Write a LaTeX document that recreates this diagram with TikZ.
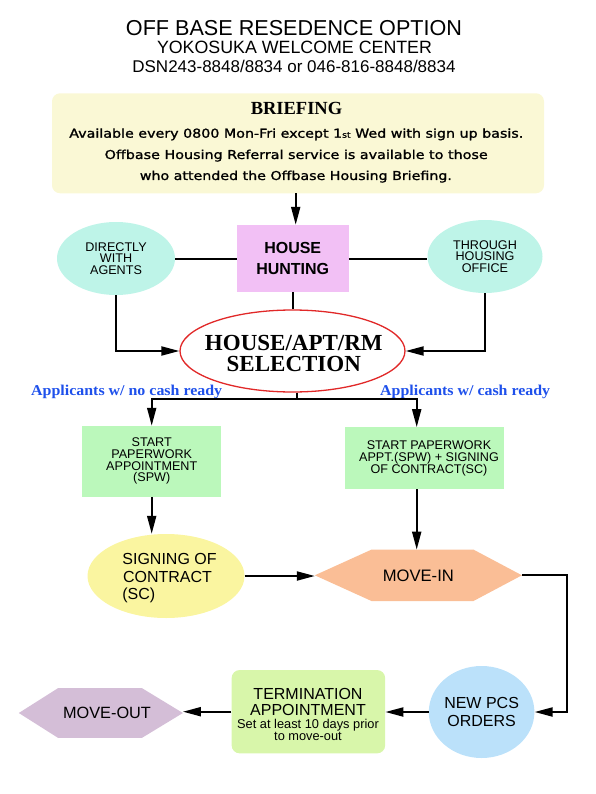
\documentclass[tikz,border=0pt]{standalone}
\usepackage{fontspec}
\setmainfont{Liberation Sans}
\newfontfamily\serifbf{Liberation Serif}
\newfontfamily\roundfont[FakeBold=1.2]{DejaVu Sans}
\usepackage{graphicx}
\usetikzlibrary{arrows.meta,shapes.geometric,backgrounds}
\newcommand\fsz[2]{\fontsize{#1}{#2}\selectfont}
\definecolor{briefc}{RGB}{250,248,213}
\definecolor{pinkc}{RGB}{242,192,245}
\definecolor{tealc}{RGB}{190,244,232}
\definecolor{greenc}{RGB}{187,248,187}
\definecolor{yellc}{RGB}{250,245,160}
\definecolor{peachc}{RGB}{250,190,150}
\definecolor{bluec}{RGB}{187,225,250}
\definecolor{limec}{RGB}{216,246,170}
\definecolor{purpc}{RGB}{212,190,215}
\definecolor{selred}{RGB}{225,40,40}
\definecolor{labblue}{RGB}{30,80,235}
\begin{document}
\begin{tikzpicture}[x=1pt,y=-1pt,
  conn/.style={line width=2pt,black},
  arr/.style={conn,-{Triangle[length=18pt,width=9pt]}},
  shapebox/.style={inner sep=0pt,draw=none},
  lbl/.style={inner sep=0pt},
  small/.style={font=\fsz{12.6}{11.7},align=center},
  big/.style={font=\fsz{16}{17.6},align=center}]
\useasboundingbox (0,0) rectangle (595,794);
% title
\node[lbl,anchor=base,font=\fsz{21.6}{24}] (t1) at (294,36) {OFF BASE RESEDENCE OPTION};
\node[lbl,anchor=base,font=\fsz{17.8}{20}] (t2) at (294.5,54) {YOKOSUKA WELCOME CENTER};
\node[lbl,anchor=base,font=\fsz{17}{20}] (t3) at (294,72.5) {DSN243-8848/8834 or 046-816-8848/8834};
% briefing
\node[shapebox,fill=briefc,rounded corners=8pt,minimum width=492pt,minimum height=100pt] (brief) at (298,143.3) {};
\node[lbl,anchor=base,font=\serifbf\bfseries\fsz{18.5}{20}] (bt) at (296.5,115) {BRIEFING};
\node[lbl,anchor=base,font=\roundfont\fsz{12.3}{14}] (b1) at (296.3,137.7) {\resizebox{454pt}{\height}{Available every 0800 Mon-Fri except 1{\fsz{8}{9}st} Wed with sign up basis.}};
\node[lbl,anchor=base,font=\roundfont\fsz{12.3}{14}] (b2) at (296.2,159) {\resizebox{383pt}{\height}{Offbase Housing Referral service is available to those}};
\node[lbl,anchor=base,font=\roundfont\fsz{12.3}{14}] (b3) at (295.9,180) {\resizebox{312pt}{\height}{who attended the Offbase Housing Briefing.}};
% house hunting row
\node[shapebox,fill=pinkc,minimum width=112pt,minimum height=67pt,font=\bfseries\fsz{16}{21.5},align=center] (hh) at (292.7,258.5) {HOUSE\\HUNTING};
\node[shapebox,ellipse,fill=tealc,minimum width=118pt,minimum height=73pt,small] (le) at (116,258.5) {DIRECTLY\\WITH\\AGENTS};
\node[shapebox,ellipse,fill=tealc,minimum width=115pt,minimum height=73pt,small] (re) at (485,256.5) {THROUGH\\HOUSING\\OFFICE};
% selection
\node[ellipse,draw=selred,line width=1.3pt,fill=white,minimum width=225pt,minimum height=82pt,inner sep=0pt] (sel) at (292.5,351) {};
\node[lbl,anchor=base,font=\serifbf\bfseries\fsz{23}{21}] (selt1) at (293.8,350) {HOUSE/APT/RM};
\node[lbl,anchor=base,font=\serifbf\bfseries\fsz{23}{21}] (selt2) at (293.8,371.5) {SELECTION};
\node[lbl,anchor=base west,font=\serifbf\bfseries\fsz{15}{16},text=labblue] (lab1) at (31,395) {\resizebox{191pt}{\height}{Applicants w/ no cash ready}};
\node[lbl,anchor=base west,font=\serifbf\bfseries\fsz{15}{16},text=labblue] (lab2) at (380,395) {\resizebox{170pt}{\height}{Applicants w/ cash ready}};
% paperwork boxes
\node[shapebox,fill=greenc,minimum width=138.5pt,minimum height=70.7pt,small] (spw1) at (151.7,461.3) {START\\PAPERWORK\\APPOINTMENT\\(SPW)};
\node[shapebox,fill=greenc,minimum width=159.3pt,minimum height=61.7pt] (spw2) at (424.7,458.2) {};
\node[lbl,small] (spw2t) at (429,458.5) {START PAPERWORK\\APPT.(SPW) + SIGNING\\OF CONTRACT(SC)};
% signing ellipse
\node[shapebox,ellipse,fill=yellc,minimum width=157pt,minimum height=84pt] (sig) at (166,576) {};
\node[lbl,anchor=base west,font=\fsz{16}{18}] (sig1) at (122.2,564.7) {SIGNING OF};
\node[lbl,anchor=base west,font=\fsz{16}{18}] (sig2) at (122.8,582.4) {CONTRACT};
\node[lbl,anchor=base west,font=\fsz{16}{18}] (sig3) at (122.2,599.5) {(SC)};
% move-in
\node[lbl,minimum width=206.7pt,minimum height=51pt,font=\fsz{16.6}{18}] (movein) at (418.35,575.3) {MOVE-IN};
% bottom row
\node[shapebox,ellipse,fill=bluec,minimum width=98pt,minimum height=92pt,big] (pcs) at (481.6,712) {NEW PCS\\ORDERS};
\node[shapebox,fill=limec,rounded corners=8pt,minimum width=153.5pt,minimum height=83.3pt] (term) at (308.4,711.7) {};
\node[lbl,anchor=base,font=\fsz{16}{18}] (tt1) at (308,699) {TERMINATION};
\node[lbl,anchor=base,font=\fsz{16}{18}] (tt2) at (308,715.3) {APPOINTMENT};
\node[lbl,anchor=base,font=\fsz{12.8}{13}] (tt3) at (308,728.5) {Set at least 10 days prior};
\node[lbl,anchor=base,font=\fsz{12.8}{13}] (tt4) at (308,740.5) {to move-out};
\node[lbl,minimum width=163.7pt,minimum height=49.4pt,font=\fsz{16.3}{18}] (mout) at (100.85,713) {\hspace*{12.3pt}MOVE-OUT};
\begin{pgfonlayer}{background}
\fill[peachc] (movein.west) -- ([xshift=56.7pt]movein.north west) -- ([xshift=-48.4pt]movein.north east) -- (movein.east) -- ([xshift=-48.4pt]movein.south east) -- ([xshift=56.7pt]movein.south west) -- cycle;
\fill[purpc] (mout.west) -- ([xshift=39.3pt]mout.north west) -- ([xshift=-41pt]mout.north east) -- (mout.east) -- ([xshift=-41pt]mout.south east) -- ([xshift=39.3pt]mout.south west) -- cycle;
\end{pgfonlayer}
% helper coordinates
\coordinate (ax1) at (295.7,0);
\coordinate (jn) at (296.7,399);
\coordinate (ax2) at (416.7,0);
\coordinate (rc) at (566.7,0);
% connectors
\draw[arr] (brief.south -| ax1) -- (hh.north -| ax1);
\draw[conn] (le.east |- hh.west) -- (hh.west);
\draw[conn] (hh.east) -- (re.west |- hh.east);
\draw[conn] (hh.south) -- (sel.north -| hh.south);
\draw[arr] (le.south) |- (sel.west);
\draw[arr] (re.south) |- (sel.east);
\draw[conn] (sel.south -| jn) -- (jn);
\draw[arr] (jn) -| (spw1.north);
\draw[arr] (jn) -| (spw2.north -| ax2);
\draw[arr] (spw1.south) -- (spw1.south |- sig.north);
\draw[arr] (spw2.south -| ax2) -- (movein.north -| ax2);
\draw[arr] (sig.east) -- (sig.east -| movein.west);
\draw[arr] (movein.east) -- (movein.east -| rc) -- (pcs.east -| rc) -- (pcs.east);
\draw[arr] (pcs.west) -- (pcs.west -| term.east);
\draw[arr] (term.west) -- (term.west -| mout.east);
\end{tikzpicture}
\end{document}
